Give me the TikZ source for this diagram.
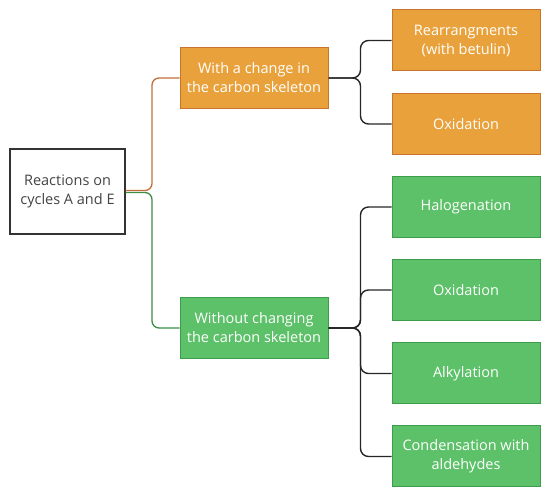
\documentclass[tikz,border=0pt]{standalone}
\usepackage{fontspec}
\setmainfont{Open Sans}
\usepackage{tikz}
\usetikzlibrary{positioning, calc}

\definecolor{orfill}{HTML}{E9A23B}
\definecolor{ordraw}{HTML}{C9742C}
\definecolor{grfill}{HTML}{5CC168}
\definecolor{grdraw}{HTML}{3E9B4B}
\definecolor{orline}{HTML}{C26E38}
\definecolor{grline}{HTML}{3C8E44}
\definecolor{txtgray}{HTML}{444444}

\begin{document}
\begin{tikzpicture}[
    x=1pt, y=-1pt,
    rootbox/.style={rectangle, draw=black!80, line width=1.3pt, fill=white, text=txtgray, minimum width=115pt, minimum height=85pt, align=center, font=\fontsize{14.5}{19}\selectfont},
    orbox/.style={rectangle, draw=ordraw, line width=1pt, fill=orfill, text=white, minimum width=148pt, minimum height=61pt, align=center, font=\fontsize{14.5}{19}\selectfont},
    grbox/.style={orbox, draw=grdraw, fill=grfill},
    orlink/.style={draw=orline, line width=1.3pt, rounded corners=7pt},
    grlink/.style={draw=grline, line width=1.3pt, rounded corners=7pt},
    brace/.style={draw=black!85, line width=1.4pt, rounded corners=8pt}
]
\useasboundingbox (0,0) rectangle (550,497);

% root
\node[rootbox] (root) at (67.5,191.5) {Reactions on\\cycles A and E};

% middle level
\node[orbox] (withchg) at (254,78) {With a change in\\the carbon skeleton};
\node[grbox] (nochg) at (254,328) {Without changing\\the carbon skeleton};

% leaves with a change
\node[orbox] (rearr) at (466,40.5) {Rearrangments\\(with betulin)};
\node[orbox] (oxA) at (466,124) {Oxidation};

% leaves without change
\node[grbox] (halog) at (466,207) {Halogenation};
\node[grbox] (oxB) at (466,290) {Oxidation};
\node[grbox] (alkyl) at (466,373.5) {Alkylation};
\node[grbox] (conden) at (466,456.5) {Condensation with\\aldehydes};

% root links
\coordinate (rj) at (152,0);
\draw[orlink] ([yshift=1pt]root.east) -- ([yshift=1pt]root.east -| rj) |- (withchg.west);
\draw[grlink] ([yshift=-1pt]root.east) -- ([yshift=-1pt]root.east -| rj) |- (nochg.west);

% braces
\coordinate (bA) at ($(withchg.east)+(32,0)$);
\foreach \n in {rearr, oxA}
    \draw[brace] (withchg.east) -- (bA) |- (\n.west);

\coordinate (bB) at ($(nochg.east)+(32,0)$);
\foreach \n in {halog, oxB, alkyl, conden}
    \draw[brace] (nochg.east) -- (bB) |- (\n.west);

\end{tikzpicture}
\end{document}
